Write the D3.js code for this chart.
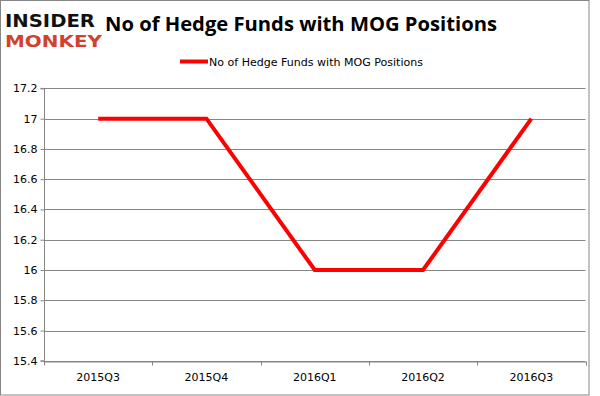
<!DOCTYPE html>
<html><head><meta charset="utf-8">
<script src="https://cdn.jsdelivr.net/npm/d3@7"></script>
<style>body{margin:0;background:#fff}svg{display:block}</style>
</head><body>
<script>
const categories = ["2015Q3","2015Q4","2016Q1","2016Q2","2016Q3"];
const values = [17,17,16,16,17];
const yTicks = [15.4,15.6,15.8,16,16.2,16.4,16.6,16.8,17,17.2];
const seriesName = "No of Hedge Funds with MOG Positions";
const titleText = "No of Hedge Funds with MOG Positions";

const W=600,H=396;
const svg=d3.select("body").append("svg").attr("width",W).attr("height",H);
svg.append("rect").attr("x",0.5).attr("y",0.5).attr("width",588.5).attr("height",394.5).attr("fill","#fff").attr("stroke","#868686");

const x=d3.scaleBand().domain(categories).range([44,585.5]);
const y=d3.scaleLinear().domain([15.4,17.2]).range([360.8,88.4]);
const font="'DejaVu Sans', Verdana, sans-serif";

// gridlines
svg.append("g").selectAll("line").data(yTicks).join("line")
 .attr("x1",44).attr("x2",585.5)
 .attr("y1",d=>Math.round(y(d))+0.5).attr("y2",d=>Math.round(y(d))+0.5)
 .attr("stroke","#868686").attr("stroke-width",1);

// y axis
const ya=svg.append("g").attr("transform","translate(44.5,0)")
 .call(d3.axisLeft(y).tickValues(yTicks).tickSize(4).tickFormat(d=>d3.format("")(+d.toFixed(1))));
ya.select(".domain").attr("stroke","#868686").attr("d",`M-4,${y(17.2)}H0V${y(15.4)}H-4`);
ya.selectAll(".tick line").attr("stroke","#868686");
ya.selectAll(".tick text").attr("font-family",font).attr("font-size","11px").attr("fill","#000").attr("x",-7);

// x axis
const xa=svg.append("g").attr("transform",`translate(0,${Math.round(y(15.4))+0.5})`)
 .call(d3.axisBottom(x).tickSize(0).tickPadding(12));
xa.select(".domain").attr("stroke","#868686");
xa.selectAll(".tick text").attr("font-family",font).attr("font-size","11px").attr("fill","#000");
// category separators
const bounds=categories.map(c=>x(c)).concat([x.range()[1]]);
xa.append("g").selectAll("line").data(bounds).join("line")
 .attr("x1",d=>Math.round(d)+0.5).attr("x2",d=>Math.round(d)+0.5).attr("y1",0).attr("y2",4)
 .attr("stroke","#868686");

// line
const line=d3.line().x((d,i)=>x(categories[i])+x.bandwidth()/2).y(d=>y(d));
svg.append("path").datum(values).attr("d",line).attr("fill","none")
 .attr("stroke","#ff0000").attr("stroke-width",4).attr("stroke-linejoin","miter");

// title
svg.append("text").attr("x",301).attr("y",31).attr("text-anchor","middle")
 .attr("font-family","'Open Sans', 'Noto Sans', sans-serif").attr("font-weight","bold")
 .attr("font-size","19px").attr("fill","#000").attr("textLength",392).attr("lengthAdjust","spacingAndGlyphs").text(titleText);

// legend
svg.append("line").attr("x1",180).attr("x2",208).attr("y1",61.5).attr("y2",61.5).attr("stroke","#ff0000").attr("stroke-width",4);
svg.append("text").attr("x",209).attr("y",65.5).attr("font-family",font).attr("font-size","10.5px").attr("fill","#000")
 .attr("textLength",214).attr("lengthAdjust","spacingAndGlyphs").text(seriesName);

// logo
svg.append("text").attr("x",5).attr("y",27).attr("font-family","'DejaVu Sans', sans-serif").attr("font-weight","bold")
 .attr("font-size","18px").attr("fill","#111").attr("textLength",90).attr("lengthAdjust","spacingAndGlyphs").text("INSIDER");
svg.append("text").attr("x",5).attr("y",47).attr("font-family","'DejaVu Sans', sans-serif").attr("font-weight","bold")
 .attr("font-size","16.5px").attr("fill","#d2412f").attr("textLength",97).attr("lengthAdjust","spacingAndGlyphs").text("MONKEY");
</script>
</body></html>
